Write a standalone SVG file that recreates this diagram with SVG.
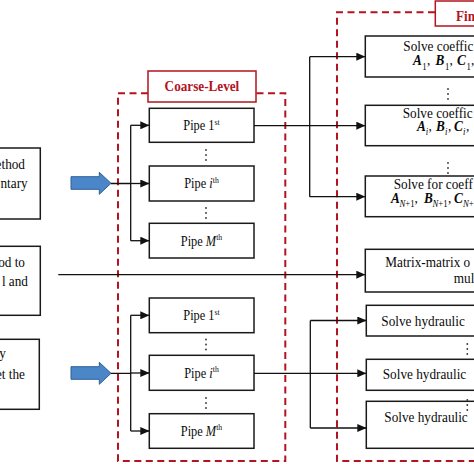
<svg xmlns="http://www.w3.org/2000/svg" width="474" height="474" viewBox="0 0 474 474">
<style>
.box{fill:#fff;stroke:#1a1a1a;stroke-width:1.5}
.lbl{fill:#fff;stroke:#b3141f;stroke-width:1.5}
.dash{fill:none;stroke:#b3141f;stroke-width:2;stroke-dasharray:7 4.5}
.t{font-family:"Liberation Serif",serif;font-size:14.4px;fill:#0a0a0a}
.red{font-weight:bold;fill:#b3141f;font-size:15px}
.bi{font-weight:bold;font-style:italic}
.it{font-style:italic}
.sub{font-size:9.5px;font-weight:normal;font-style:normal}
.sup{font-size:9px}
.conn{fill:none;stroke:#111;stroke-width:1.3}
.arr{marker-end:url(#ah)}
.blue{fill:#4a86c8;stroke:#2f5f95;stroke-width:1}
.dot{fill:#333}
</style>
<defs>
<marker id="ah" markerUnits="userSpaceOnUse" markerWidth="9" markerHeight="8" refX="9" refY="4" orient="auto">
<path d="M0,0 L9,4 L0,8 z" fill="#111"/>
</marker>
</defs>
<rect width="474" height="474" fill="#fff"/>

<g id="regions">
<path class="dash" d="M148,93.3 H118 V461 H285.3 V93.3 H256"/>
<path class="dash" d="M435,12.3 H337 V461 H480"/>
</g>

<g id="coarse-label">
<rect class="lbl" x="148" y="71" width="108" height="31"/>
<text class="t red" transform="scale(0.88,1)" x="229.5" y="91.5" text-anchor="middle">Coarse-Level</text>
</g>
<g id="fine-label">
<rect class="lbl" x="435.3" y="1" width="60" height="25"/>
<text class="t red" transform="scale(0.88,1)" x="518.2" y="21">Fin</text>
</g>

<g id="left1">
<rect class="box" x="-10" y="148" width="50.3" height="71"/>
<text class="t" transform="scale(0.92,1)" x="27.17" y="169" text-anchor="end">ethod</text>
<text class="t" transform="scale(0.92,1)" x="30.11" y="188.5" text-anchor="end">ntary</text>
</g>
<g id="left2">
<rect class="box" x="-10" y="246.3" width="50.3" height="69"/>
<text class="t" transform="scale(0.92,1)" x="27.17" y="267" text-anchor="end">od to</text>
<text class="t" transform="scale(0.92,1)" x="30.43" y="286.5" text-anchor="end">l and</text>
</g>
<g id="left3">
<rect class="box" x="-10" y="339.3" width="49.3" height="70"/>
<text class="t" transform="scale(0.92,1)" x="6.52" y="358.5" text-anchor="end">y</text>
<text class="t" transform="scale(0.92,1)" x="27.17" y="379" text-anchor="end">et the</text>
</g>

<g id="blue-arrows">
<polygon class="blue" points="71,176.7 99.3,176.7 99.3,172.3 111,183.3 99.3,194.3 99.3,189.3 71,189.3"/>
<polygon class="blue" points="71,366.7 99.3,366.7 99.3,362.3 111,373.3 99.3,384.3 99.3,379.3 71,379.3"/>
</g>

<g id="pipe1-top">
<rect class="box" x="149.3" y="108.3" width="104.7" height="34"/>
<text class="t" transform="scale(0.86,1)" x="234.3" y="130.5" text-anchor="middle">Pipe 1<tspan class="sup" dy="-5.5">st</tspan></text>
</g>
<g id="pipei-top">
<rect class="box" x="149.3" y="166" width="104.7" height="35"/>
<text class="t" transform="scale(0.86,1)" x="234.3" y="188.5" text-anchor="middle">Pipe <tspan class="it">i</tspan><tspan class="sup" dy="-5.5">th</tspan></text>
</g>
<g id="pipeM-top">
<rect class="box" x="149.3" y="223.3" width="104.7" height="34.7"/>
<text class="t" transform="scale(0.86,1)" x="234.3" y="245.7" text-anchor="middle">Pipe <tspan class="it">M</tspan><tspan class="sup" dy="-5.5">th</tspan></text>
</g>
<g id="pipe1-bot">
<rect class="box" x="149.3" y="298" width="104.7" height="34.7"/>
<text class="t" transform="scale(0.86,1)" x="234.3" y="320.3" text-anchor="middle">Pipe 1<tspan class="sup" dy="-5.5">st</tspan></text>
</g>
<g id="pipei-bot">
<rect class="box" x="149.3" y="355.3" width="104.7" height="35"/>
<text class="t" transform="scale(0.86,1)" x="234.3" y="377.8" text-anchor="middle">Pipe <tspan class="it">i</tspan><tspan class="sup" dy="-5.5">th</tspan></text>
</g>
<g id="pipeM-bot">
<rect class="box" x="149.3" y="413.7" width="104.7" height="34.6"/>
<text class="t" transform="scale(0.86,1)" x="234.3" y="436" text-anchor="middle">Pipe <tspan class="it">M</tspan><tspan class="sup" dy="-5.5">th</tspan></text>
</g>

<g id="R1">
<rect class="box" x="365.3" y="36" width="130" height="41"/>
<text class="t" transform="scale(0.92,1)" x="438.4" y="50.7">Solve coeffic</text>
<text class="t" transform="scale(0.92,1)" y="65.5"><tspan class="bi" x="448.9">A</tspan><tspan class="sub" x="459" y="70">1</tspan><tspan x="464.1" y="65.5">,</tspan><tspan class="bi" x="473.4">B</tspan><tspan class="sub" x="483.7" y="70">1</tspan><tspan x="488.6" y="65.5">,</tspan><tspan class="bi" x="496.7">C</tspan><tspan class="sub" x="507.1" y="70">1</tspan><tspan x="512" y="65.5">,</tspan></text>
</g>
<g id="R2">
<rect class="box" x="365.3" y="105.3" width="130" height="40.4"/>
<text class="t" transform="scale(0.92,1)" x="437.7" y="118.5">Solve coeffic</text>
<text class="t" transform="scale(0.92,1)" y="131.5"><tspan class="bi" x="453.3">A</tspan><tspan class="sub" x="462.7" y="135.5" style="font-style:italic">i</tspan><tspan x="465.8" y="131.5">,</tspan><tspan class="bi" x="473.9">B</tspan><tspan class="sub" x="483.7" y="135.5" style="font-style:italic">i</tspan><tspan x="487" y="131.5">,</tspan><tspan class="bi" x="493.5">C</tspan><tspan class="sub" x="503.3" y="135.5" style="font-style:italic">i</tspan><tspan x="506.5" y="131.5">,</tspan></text>
</g>
<g id="R3">
<rect class="box" x="365.3" y="176" width="130" height="40.7"/>
<text class="t" transform="scale(0.92,1)" x="427.9" y="189.5">Solve for coeff</text>
<text class="t" transform="scale(0.92,1)" y="203"><tspan class="bi" x="425">A</tspan><tspan class="sub" x="434.2" y="207"><tspan style="font-style:italic">N</tspan>+1</tspan><tspan x="450.5" y="203">,</tspan><tspan class="bi" x="460.9">B</tspan><tspan class="sub" x="470.1" y="207"><tspan style="font-style:italic">N</tspan>+1</tspan><tspan x="487" y="203">,</tspan><tspan class="bi" x="493.5">C</tspan><tspan class="sub" x="503.3" y="207"><tspan style="font-style:italic">N</tspan>+</tspan></text>
</g>
<g id="matrix">
<rect class="box" x="365.3" y="249.3" width="130" height="42.7"/>
<text class="t" transform="scale(0.92,1)" x="418.8" y="267.5">Matrix-matrix o</text>
<text class="t" transform="scale(0.92,1)" x="493.2" y="283.3">mul</text>
</g>
<g id="H1">
<rect class="box" x="366.3" y="305.3" width="130" height="30.7"/>
<text class="t" transform="scale(0.92,1)" x="414.5" y="326.5">Solve hydraulic</text>
</g>
<g id="H2">
<rect class="box" x="366.3" y="359.3" width="130" height="31"/>
<text class="t" transform="scale(0.92,1)" x="416" y="379.5">Solve hydraulic</text>
</g>
<g id="H3">
<rect class="box" x="366.3" y="401.3" width="130" height="47"/>
<text class="t" transform="scale(0.92,1)" x="417.7" y="422">Solve hydraulic</text>
</g>

<g id="ellipses">
<circle class="dot" cx="206" cy="150" r="0.9"/><circle class="dot" cx="206" cy="155" r="0.9"/><circle class="dot" cx="206" cy="160" r="0.9"/>
<circle class="dot" cx="206" cy="208" r="0.9"/><circle class="dot" cx="206" cy="213" r="0.9"/><circle class="dot" cx="206" cy="218" r="0.9"/>
<circle class="dot" cx="206" cy="339.5" r="0.9"/><circle class="dot" cx="206" cy="344.5" r="0.9"/><circle class="dot" cx="206" cy="349.5" r="0.9"/>
<circle class="dot" cx="206" cy="398" r="0.9"/><circle class="dot" cx="206" cy="403" r="0.9"/><circle class="dot" cx="206" cy="408" r="0.9"/>
<circle class="dot" cx="448" cy="89" r="0.9"/><circle class="dot" cx="448" cy="94" r="0.9"/><circle class="dot" cx="448" cy="99" r="0.9"/>
<circle class="dot" cx="448" cy="163" r="0.9"/><circle class="dot" cx="448" cy="168" r="0.9"/><circle class="dot" cx="448" cy="173" r="0.9"/>
<circle class="dot" cx="467.3" cy="344" r="0.9"/><circle class="dot" cx="467.3" cy="349" r="0.9"/><circle class="dot" cx="467.3" cy="354" r="0.9"/>
<circle class="dot" cx="467.3" cy="400" r="0.9"/><circle class="dot" cx="467.3" cy="405" r="0.9"/><circle class="dot" cx="467.3" cy="410" r="0.9"/>
</g>

<g id="connectors">
<path class="conn" d="M111,183.5 H130.7 M130.7,125.3 V240.7"/>
<path class="conn arr" d="M130.7,125.3 H149.3"/>
<path class="conn arr" d="M130.7,183.5 H149.3"/>
<path class="conn arr" d="M130.7,240.7 H149.3"/>
<path class="conn" d="M111,373.3 H130.7 M130.7,315.3 V431"/>
<path class="conn arr" d="M130.7,315.3 H149.3"/>
<path class="conn arr" d="M130.7,373 H149.3"/>
<path class="conn arr" d="M130.7,431 H149.3"/>
<path class="conn" d="M254,125.7 H309.7 M309.7,56.7 V196.7"/>
<path class="conn arr" d="M309.7,56.7 H365.3"/>
<path class="conn arr" d="M309.7,125.7 H365.3"/>
<path class="conn arr" d="M309.7,196.7 H365.3"/>
<path class="conn arr" d="M58.3,274.7 H365.3"/>
<path class="conn" d="M254,373.3 H310.3 M310.3,320.5 V428"/>
<path class="conn arr" d="M310.3,320.5 H366.3"/>
<path class="conn arr" d="M310.3,373.3 H366.3"/>
<path class="conn arr" d="M310.3,428 H366.3"/>
</g>
</svg>
